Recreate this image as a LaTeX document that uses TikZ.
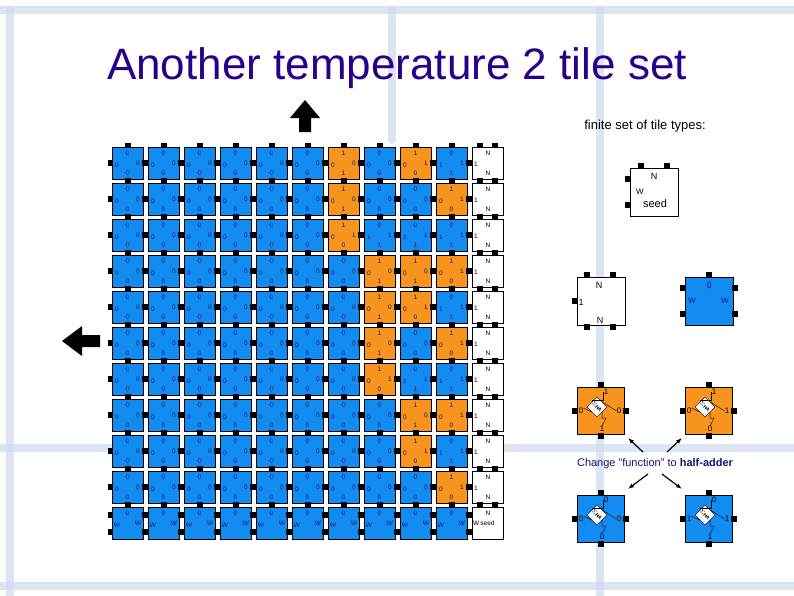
\documentclass[tikz,border=0pt]{standalone}
\usepackage{fontspec}
\setmainfont{Liberation Sans}
\usetikzlibrary{arrows.meta}
\definecolor{tblue}{RGB}{18,140,240}
\definecolor{torange}{RGB}{247,148,29}
\definecolor{ttitle}{RGB}{40,0,140}
\definecolor{tlab}{RGB}{20,20,120}
\definecolor{frame}{RGB}{206,218,238}
\tikzset{
  tilebox/.style={draw=black,line width=0.9pt},
  tab/.style={fill=black},
  lab/.style={font=\fontsize{6.5}{6.5}\selectfont,text=tlab,inner sep=0pt},
  blab/.style={font=\fontsize{9}{9}\selectfont,text=black,inner sep=0pt},
  flab/.style={font=\fontsize{8}{8}\selectfont,inner sep=0pt},
  hlab/.style={font=\fontsize{8}{8}\selectfont,inner sep=0pt},
  band/.style={draw=frame,line width=8pt,opacity=0.7,line cap=round},
}
\begin{document}
\begin{tikzpicture}[x=1pt,y=-1pt]
\useasboundingbox (0,0) rectangle (794,595);
\fill[white] (0,0) rectangle (794,595);
% background frame
\draw[band] (0,10) -- (794,10);
\draw[band] (10,10) -- (10,595);
\draw[band] (392,10) -- (392,140);
\draw[band] (600,10) -- (600,595);
\draw[band] (0,448) -- (110,448);
\draw[band] (500,448) -- (794,448);
\draw[band] (0,586) -- (794,586);
% title
\node[text=ttitle,font=\fontsize{44}{44}\selectfont] (title) at (397,68) {Another temperature 2 tile set};
\node[font=\fontsize{13}{13}\selectfont] (finite) at (645,126) {finite set of tile types:};
% big arrows
\fill[black] (299,132) -- (311,132) -- (311,118) -- (320,118) -- (305,100) -- (290,118) -- (299,118) -- cycle;
\fill[black] (100,335) -- (100,347) -- (82,347) -- (82,356) -- (62,341) -- (82,326) -- (82,335) -- cycle;
% grid rows 0..9
\foreach \r in {0,...,9}{
 \foreach \c in {0,...,9}{
  \pgfmathtruncatemacro\v{10-\r}
  \pgfmathtruncatemacro\k{9-\c}
  \pgfmathtruncatemacro\Nb{mod(floor(\v/pow(2,\k)),2)}
  \pgfmathtruncatemacro\Sb{mod(floor((\v-1)/pow(2,\k)),2)}
  \pgfmathtruncatemacro\Eb{mod(\v-1,pow(2,\k))==pow(2,\k)-1 ? 1 : 0}
  \pgfmathtruncatemacro\Wb{\Sb*\Eb}
  \pgfmathsetmacro\L{112+36*\c}
  \pgfmathsetmacro\T{147+36*\r}
  \ifnum\Nb=1 \def\fc{torange}\else\def\fc{tblue}\fi
  \draw[tilebox,fill=\fc] (\L,\T) rectangle ++(31,32);
  \fill[tab] (\L+12.5,\T-4) rectangle ++(6,5);
  \fill[tab] (\L+12.5,\T+31) rectangle ++(6,5);
  \fill[tab] (\L-4,\T+13) rectangle ++(5,6);
  \fill[tab] (\L+30,\T+13) rectangle ++(5,6);
  \node[lab] (n\r-\c) at (\L+15.5,\T+6) {\Nb};
  \node[lab] (s\r-\c) at (\L+15.5,\T+26) {\Sb};
  \node[lab] (w\r-\c) at (\L+5,\T+18) {\Wb};
  \node[lab] (e\r-\c) at (\L+26,\T+16) {\Eb};
 }
 \pgfmathsetmacro\L{112+360}
 \pgfmathsetmacro\T{147+36*\r}
 \draw[tilebox,fill=white] (\L,\T) rectangle ++(31,32);
 \fill[tab] (\L+5,\T-4) rectangle ++(6,5);
 \fill[tab] (\L+20,\T-4) rectangle ++(6,5);
 \fill[tab] (\L+5,\T+31) rectangle ++(6,5);
 \fill[tab] (\L+20,\T+31) rectangle ++(6,5);
 \fill[tab] (\L-4,\T+13) rectangle ++(5,6);
 \node[lab,text=black] (wn\r) at (\L+16,\T+6) {N};
 \node[lab,text=black] (ws\r) at (\L+16,\T+26) {N};
 \node[lab,text=black] (ww\r) at (\L+4,\T+17) {1};
}
% seed row
\foreach \c in {0,...,9}{
  \pgfmathsetmacro\L{112+36*\c}
  \def\T{507}
  \draw[tilebox,fill=tblue] (\L,\T) rectangle ++(31,32);
  \fill[tab] (\L+12.5,\T-4) rectangle ++(6,5);
  \fill[tab] (\L-4,\T+5) rectangle ++(5,6);
  \fill[tab] (\L-4,\T+22) rectangle ++(5,6);
  \fill[tab] (\L+30,\T+5) rectangle ++(5,6);
  \fill[tab] (\L+30,\T+22) rectangle ++(5,6);
  \node[lab] (sn\c) at (\L+15.5,\T+6) {0};
  \node[lab] (sw\c) at (\L+5,\T+18) {W};
  \node[lab] (se\c) at (\L+26,\T+16) {W};
}
\draw[tilebox,fill=white] (472,507) rectangle ++(31,32);
\fill[tab] (477,503) rectangle ++(6,5);
\fill[tab] (492,503) rectangle ++(6,5);
\fill[tab] (468,512) rectangle ++(5,6);
\fill[tab] (468,529) rectangle ++(5,6);
\node[lab,text=black] (seedn) at (488,513) {N};
\node[lab,text=black,anchor=west] (seedw) at (473,523) {W\,seed};
% legend tiles
\draw[tilebox,fill=white] (630,168) rectangle (678,216);
\fill[tab] (638,163) rectangle ++(6,6);
\fill[tab] (664,163) rectangle ++(6,6);
\fill[tab] (625,176) rectangle ++(6,6);
\fill[tab] (625,202) rectangle ++(6,6);
\node[blab] (gn) at (654,176) {N};
\node[flab] (gw) at (640,192) {W};
\node[font=\fontsize{11}{11}\selectfont,inner sep=0pt] (gs) at (655,204) {seed};
\draw[tilebox,fill=white] (577,277) rectangle (625,325);
\fill[tab] (584,272) rectangle ++(6,6);
\fill[tab] (610,272) rectangle ++(6,6);
\fill[tab] (584,324) rectangle ++(6,6);
\fill[tab] (610,324) rectangle ++(6,6);
\fill[tab] (572,298) rectangle ++(6,6);
\node[blab] (an) at (599,285) {N};
\node[blab] (aw) at (581,302) {1};
\node[blab] (as) at (600,320) {N};
\draw[tilebox,fill=tblue] (685,277) rectangle (733,325);
\fill[tab] (706,272) rectangle ++(6,6);
\fill[tab] (680,285) rectangle ++(6,6);
\fill[tab] (680,311) rectangle ++(6,6);
\fill[tab] (732,285) rectangle ++(6,6);
\fill[tab] (732,311) rectangle ++(6,6);
\node[blab,text=tlab] (bn) at (709,285) {0};
\node[flab,text=tlab] (bw) at (692,301) {W};
\node[flab,text=tlab] (be) at (725,301) {W};
% half adder tiles
\foreach \nm/\L/\T/\fc/\n/\w/\e/\s in {h1/577/387/torange/1/0/0/1, h2/685/387/torange/1/0/1/0, h3/577/495/tblue/0/0/0/0, h4/685/495/tblue/0/1/1/1}{
  \node[tilebox,fill=\fc,minimum size=47pt,inner sep=0pt,anchor=north west] (\nm) at (\L,\T) {};
  \fill[tab] (\L+20.5,\T-5) rectangle ++(6,6);
  \fill[tab] (\L+20.5,\T+46) rectangle ++(6,6);
  \fill[tab] (\L-5,\T+20.5) rectangle ++(6,6);
  \fill[tab] (\L+46,\T+20.5) rectangle ++(6,6);
  \node[draw=black,fill=white,minimum size=14pt,inner sep=0pt,rotate=-45,font=\fontsize{5}{5}\selectfont\bfseries] (\nm d) at (\L+20,\T+20) {$\Sigma$HA};
  \node[hlab] (\nm n) at (\L+29,\T+5) {\n};
  \node[hlab] (\nm w) at (\L+4,\T+24) {\w};
  \node[hlab] (\nm e) at (\L+42,\T+24) {\e};
  \node[hlab] (\nm s) at (\L+25,\T+42) {\s};
  \draw (\nm d.west) -- ++(0,-2) -| (\nm n.west);
  \draw (\nm d.north) -- (\nm e.west);
  \draw (\nm d.east) |- ++(4,6) -- (\nm s.north);
  \draw (\nm d.south) -- (\nm w.north east);
}
\node[text=tlab,font=\fontsize{11}{11}\selectfont,inner sep=1pt] (chg) at (655,464) {Change "function" to \textbf{half-adder}};
\coordinate (c1) at (643,452);
\coordinate (c2) at (667,452);
\coordinate (c3) at (648,474);
\coordinate (c4) at (662,474);
\draw[-{Latex[length=6pt]},line width=1.2pt] (c1) -- ([shift={(3,3)}]h1.south east);
\draw[-{Latex[length=6pt]},line width=1.2pt] (c2) -- ([shift={(-3,3)}]h2.south west);
\draw[-{Latex[length=6pt]},line width=1.2pt] (c3) -- ([shift={(3,-6)}]h3.north east);
\draw[-{Latex[length=6pt]},line width=1.2pt] (c4) -- ([shift={(-3,-6)}]h4.north west);
\end{tikzpicture}
\end{document}
